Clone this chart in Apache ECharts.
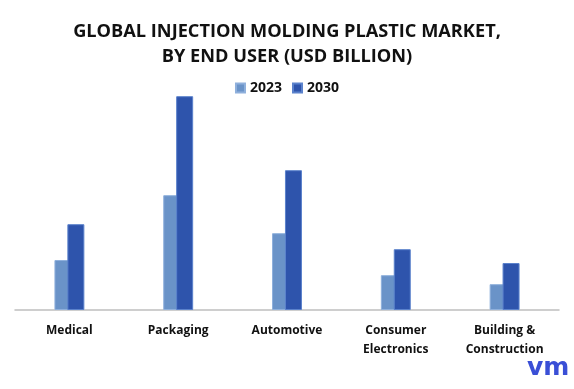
<!DOCTYPE html>
<html>
<head>
<meta charset="utf-8">
<script src="https://cdn.jsdelivr.net/npm/echarts@6/dist/echarts.min.js"></script>
<style>html,body{margin:0;padding:0;background:#fff}#c{width:574px;height:389px}</style>
</head>
<body>
<div id="c"></div>
<script>
var categories = ['Medical', 'Packaging', 'Automotive', 'Consumer\nElectronics', 'Building &\nConstruction'];
var values2023 = [25.0, 57.4, 38.4, 17.4, 12.9];
var values2030 = [42.9, 106.9, 69.9, 30.4, 23.5];
var seriesNames = ['2023', '2030'];

var font = '"Open Sans", "Noto Sans", sans-serif';
var chart = echarts.init(document.getElementById('c'));
chart.setOption({
  animation: false,
  title: {
    text: 'GLOBAL INJECTION MOLDING PLASTIC MARKET,\nBY END USER (USD BILLION)',
    left: 'center', top: 14,
    textStyle: { fontFamily: font, fontWeight: 'bold', fontSize: 18.2, color: '#111', lineHeight: 25 }
  },
  legend: {
    data: seriesNames, top: 76, left: 'center', icon: 'rect',
    itemWidth: 9, itemHeight: 9, itemGap: 10,
    textStyle: { fontFamily: font, fontWeight: 'bold', fontSize: 14, color: '#111' }
  },
  grid: { left: 15, right: 15, top: 90, bottom: 79, containLabel: false },
  xAxis: {
    type: 'category', data: categories,
    axisLine: { lineStyle: { color: '#bfbfbf', width: 1.5 } },
    axisTick: { show: false },
    axisLabel: { fontFamily: font, fontWeight: 'bold', fontSize: 12, color: '#111', margin: 11, lineHeight: 19, interval: 0 }
  },
  yAxis: { type: 'value', min: 0, max: 110, show: false, splitLine: { show: false } },
  series: [
    { name: '2023', type: 'bar', data: values2023, barWidth: 17, barGap: '-24%',
      itemStyle: { color: '#6a93c8', borderColor: '#8fb0dc', borderWidth: 1 } },
    { name: '2030', type: 'bar', data: values2030, barWidth: 17,
      itemStyle: { color: '#2e54ac', borderColor: '#5b82cc', borderWidth: 1 } }
  ],
  graphic: [{
    type: 'text', left: 527, top: 356,
    style: { text: 'vm', font: 'bold 25px "DejaVu Sans", sans-serif', fill: '#3a4fd6' }
  }]
});
</script>
</body>
</html>
